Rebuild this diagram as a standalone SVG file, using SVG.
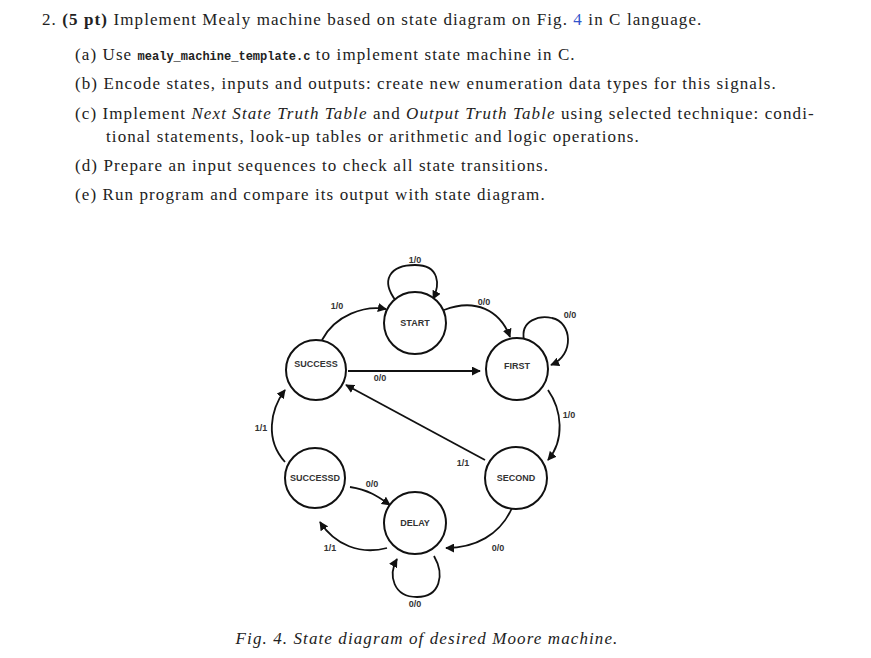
<svg xmlns="http://www.w3.org/2000/svg" width="871" height="658" viewBox="0 0 871 658">
<style>
.t{font-family:"Liberation Serif",serif;font-size:17px;letter-spacing:1.1px;fill:#222}
.m{font-family:"Liberation Mono",monospace;font-size:12px;font-weight:bold;letter-spacing:0}
.n circle{fill:#fff;stroke:#111;stroke-width:2}
.n text,.l{font-family:"Liberation Sans",Arial,sans-serif;font-size:9px;font-weight:bold;fill:#333;text-anchor:middle}
#edges path{fill:none;stroke:#111;stroke-width:1.8;marker-end:url(#a)}
</style>
<defs><marker id="a" viewBox="0 0 10 10" refX="9" refY="5" markerWidth="5" markerHeight="5" orient="auto"><path d="M0,0L10,5L0,10z" fill="#111"/></marker></defs>
<rect width="871" height="658" fill="#fff"/>
<text class="t" x="42" y="25">2. <tspan font-weight="bold">(5 pt)</tspan> Implement Mealy machine based on state diagram on Fig. <tspan fill="#3355cc">4</tspan> in C language.</text>
<text class="t" x="75" y="60">(a)  Use <tspan class="m">mealy_machine_template.c</tspan> to implement state machine in C.</text>
<text class="t" x="75" y="89">(b)  Encode states, inputs and outputs: create new enumeration data types for this signals.</text>
<text class="t" x="75" y="119">(c)  Implement <tspan font-style="italic">Next State Truth Table</tspan> and <tspan font-style="italic">Output Truth Table</tspan> using selected technique: condi-</text>
<text class="t" x="106" y="142">tional statements, look-up tables or arithmetic and logic operations.</text>
<text class="t" x="75" y="171">(d)  Prepare an input sequences to check all state transitions.</text>
<text class="t" x="75" y="200">(e)  Run program and compare its output with state diagram.</text>
<g id="edges">
<path d="M396,301 C380,280 390,265 415,265 C440,265 440,285 433,299"/>
<path d="M322,340 C335,315 365,305 386,309"/>
<path d="M444,310 C475,298 500,310 510,337"/>
<path d="M524,340 C520,320 540,315 552,318 C572,322 575,355 551,365"/>
<path d="M348,371 L480,371"/>
<path d="M485,460 L346,385"/>
<path d="M548,390 C562,410 565,440 548,460"/>
<path d="M512,508 C500,535 475,548 446,548"/>
<path d="M350,487 C370,490 380,498 390,505"/>
<path d="M387,548 C360,555 335,545 320,522"/>
<path d="M434,556 C445,575 440,597 417,597 C393,597 388,575 397,559"/>
<path d="M285,462 C265,440 270,410 285,390"/>
</g>
<g class="l">
<text x="415" y="263">1/0</text><text x="337" y="309">1/0</text><text x="484" y="305">0/0</text>
<text x="570" y="318">0/0</text><text x="380" y="381">0/0</text><text x="569" y="418">1/0</text>
<text x="261" y="431">1/1</text><text x="463" y="466">1/1</text><text x="372" y="487">0/0</text>
<text x="330" y="551">1/1</text><text x="498" y="551">0/0</text><text x="415" y="607">0/0</text>
</g>
<g id="start" class="n"><circle cx="415" cy="323" r="31"/><text x="415" y="326">START</text></g>
<g id="success" class="n"><circle cx="316" cy="370" r="30"/><text x="316" y="367">SUCCESS</text></g>
<g id="first" class="n"><circle cx="517" cy="369" r="31"/><text x="517" y="369">FIRST</text></g>
<g id="successd" class="n"><circle cx="315" cy="478" r="30"/><text x="315" y="481">SUCCESSD</text></g>
<g id="second" class="n"><circle cx="516" cy="478" r="31"/><text x="516" y="481">SECOND</text></g>
<g id="delay" class="n"><circle cx="415" cy="523" r="31"/><text x="415" y="526">DELAY</text></g>
<text class="t" x="427" y="644" text-anchor="middle" font-style="italic">Fig. 4.  State diagram of desired Moore machine.</text>
</svg>
